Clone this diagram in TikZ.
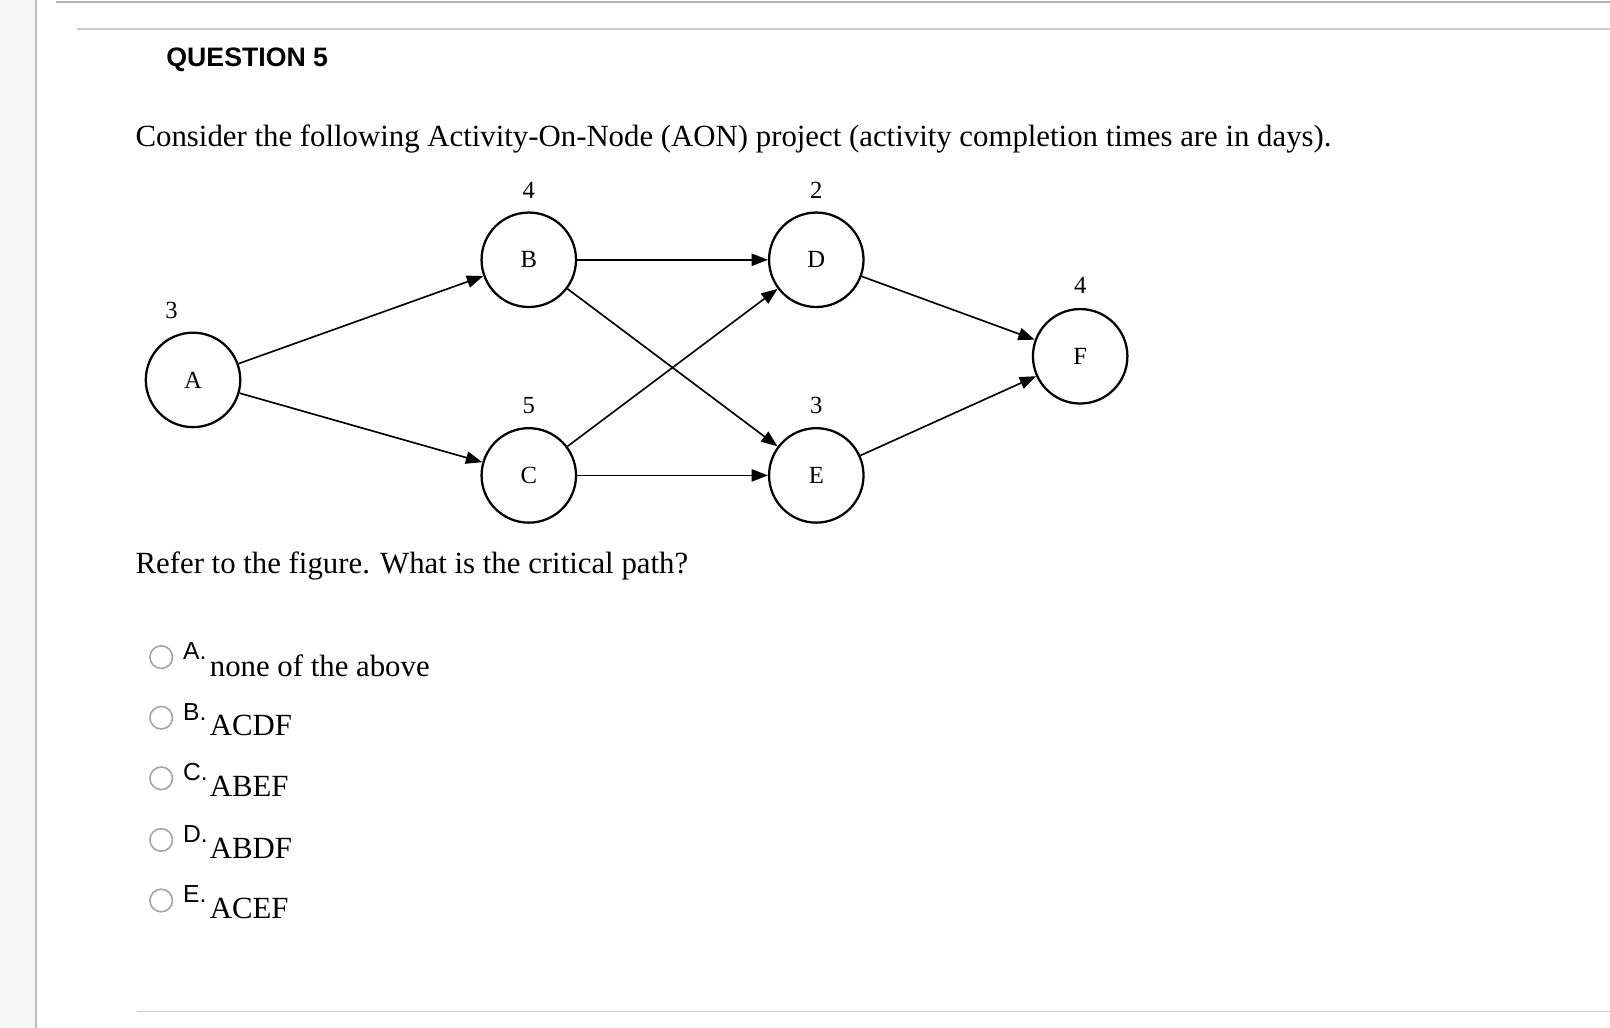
\documentclass[tikz,border=0pt]{standalone}
\usepackage{fontspec}
\setmainfont{Liberation Serif}
\newfontfamily\sansf{Liberation Sans}
\usetikzlibrary{arrows.meta}
\begin{document}
\begin{tikzpicture}[x=0.5pt,y=-0.5pt,
 act/.style={circle,draw,line width=1.1pt,minimum size=46pt,inner sep=0pt,font=\fontsize{12}{14}\selectfont},
 dur/.style={font=\fontsize{12}{14}\selectfont},
 arr/.style={line width=0.8pt,-{Triangle[length=8pt,width=6pt]}},
 main/.style={anchor=west,font=\fontsize{15}{18}\selectfont},
 radio/.style={circle,draw=gray!70,line width=0.8pt,minimum size=11pt,inner sep=0pt},
 opt/.style={anchor=west,font=\fontsize{15}{18}\selectfont}]
\useasboundingbox (0,0) rectangle (1568,1001);
\fill[gray!6] (0,0) rectangle (35,1001);
\draw[gray!50,line width=0.8pt] (35,0) -- (35,1001);
\draw[gray!60,line width=1pt] (55,2) -- (1568,2);
\draw[gray!40,line width=0.8pt] (75,28) -- (1568,28);
\draw[gray!40,line width=0.8pt] (133,985) -- (1568,985);
\node[anchor=west,font=\sansf\bfseries\fontsize{13}{15}\selectfont] (q) at (155,58) {QUESTION 5};
\node[main] (t1) at (125,135) {Consider the following Activity-On-Node (AON) project (activity completion times are in days).};
\node[act] (A) at (188,370) {A};
\node[act] (B) at (515,253) {B};
\node[act] (C) at (515,463) {C};
\node[act] (D) at (795,253) {D};
\node[act] (E) at (795,463) {E};
\node[act] (F) at (1052,347) {F};
\node[dur] (dA) at (167,302) {3};
\node[dur] (dB) at (515,185) {4};
\node[dur] (dD) at (795,185) {2};
\node[dur] (dC) at (515,395) {5};
\node[dur] (dE) at (795,395) {3};
\node[dur] (dF) at (1052,278) {4};
\draw[arr] (A) -- (B);
\draw[arr] (A) -- (C);
\draw[arr] (B) -- (D);
\draw[arr] (B) -- (E);
\draw[arr] (C) -- (D);
\draw[arr] (C) -- (E);
\draw[arr] (D) -- (F);
\draw[arr] (E) -- (F);
\node[main] (t2) at (125,551) {Refer to the figure. What is the critical path?};
\foreach \y/\l/\t [count=\i] in {640/A./none of the above,699/B./ACDF,758/C./ABEF,818/D./ABDF,877/E./ACEF}{
  \node[radio] (r\i) at (157,\y) {};
  \node[anchor=west,inner sep=0pt,font=\sansf\fontsize{12}{14}\selectfont] (l\i) at (178,\y-6) {\l};
  \node[opt,inner sep=0pt] (o\i) at (204,\y+8) {\t};
}
\end{tikzpicture}
\end{document}
